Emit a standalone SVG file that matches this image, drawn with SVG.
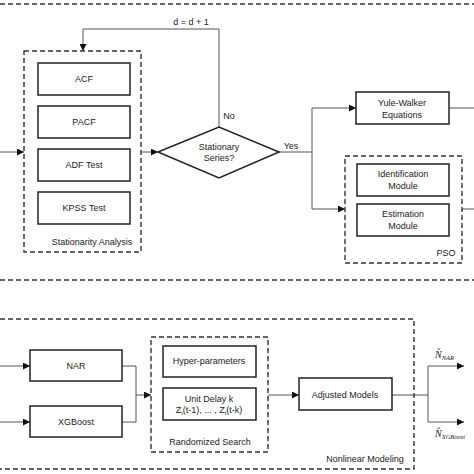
<svg xmlns="http://www.w3.org/2000/svg" width="474" height="474" viewBox="0 0 474 474">
<style>
.box{fill:#fff;stroke:#222;stroke-width:1.5}
.dash{fill:none;stroke:#333;stroke-width:1.4;stroke-dasharray:5,3}
.con{fill:none;stroke:#555;stroke-width:1}
.t{font-family:"Liberation Sans",Arial,sans-serif;font-size:9px;fill:#222;text-anchor:middle}
.s{font-family:"Liberation Serif","Times New Roman",serif;font-style:italic;fill:#222}
</style>
<defs>
<marker id="ah" viewBox="0 0 10 10" refX="10" refY="5" markerWidth="7" markerHeight="7" markerUnits="userSpaceOnUse" orient="auto">
<path d="M0,0 L10,5 L0,10 z" fill="#111"/>
</marker>
</defs>
<rect width="474" height="474" fill="#fff"/>

<!-- section separators -->
<line class="dash" x1="0" y1="4" x2="474" y2="4"/>
<line class="dash" x1="0" y1="280" x2="474" y2="280"/>

<g id="connectors">
<line class="con" x1="0" y1="152" x2="24" y2="152" marker-end="url(#ah)"/>
<line class="con" x1="141" y1="152" x2="158" y2="152" marker-end="url(#ah)"/>
<polyline class="con" points="219,127 219,29 83,29 83,51" marker-end="url(#ah)"/>
<polyline class="con" points="279,152 312,152 312,108 356,108" marker-end="url(#ah)"/>
<polyline class="con" points="312,152 312,209 345,209" marker-end="url(#ah)"/>
<line class="con" x1="449" y1="108" x2="474" y2="108"/>
<line class="con" x1="462" y1="209" x2="474" y2="209"/>
<line class="con" x1="0" y1="366" x2="30" y2="366" marker-end="url(#ah)"/>
<line class="con" x1="0" y1="422" x2="30" y2="422" marker-end="url(#ah)"/>
<polyline class="con" points="122,366 136,366 136,422 122,422"/>
<line class="con" x1="136" y1="395" x2="151" y2="395" marker-end="url(#ah)"/>
<line class="con" x1="268" y1="395" x2="299" y2="395" marker-end="url(#ah)"/>
<line class="con" x1="392" y1="395" x2="428" y2="395"/>
<polyline class="con" points="428,395 428,366 464,366" marker-end="url(#ah)"/>
<polyline class="con" points="428,395 428,422 464,422" marker-end="url(#ah)"/>
<text class="t" x="191" y="25">d = d + 1</text>
<text class="t" x="229" y="119">No</text>
<text class="t" x="291" y="149">Yes</text>
</g>

<g id="stationarity-analysis">
<rect class="dash" x="24" y="51" width="117" height="201"/>
<text class="t" x="92" y="245">Stationarity Analysis</text>
</g>
<g id="acf"><rect class="box" x="38" y="63" width="92" height="32"/><text class="t" x="84" y="82">ACF</text></g>
<g id="pacf"><rect class="box" x="38" y="106" width="92" height="32"/><text class="t" x="84" y="125">PACF</text></g>
<g id="adf"><rect class="box" x="38" y="149" width="92" height="32"/><text class="t" x="84" y="168">ADF Test</text></g>
<g id="kpss"><rect class="box" x="38" y="192" width="92" height="32"/><text class="t" x="84" y="211">KPSS Test</text></g>

<g id="stationary-decision">
<polygon class="box" points="158,152 219,127 279,152 219,178"/>
<text class="t" x="219" y="150">Stationary</text>
<text class="t" x="219" y="161">Series?</text>
</g>

<g id="yule-walker">
<rect class="box" x="356" y="92" width="93" height="32"/>
<text class="t" x="402" y="106">Yule-Walker</text>
<text class="t" x="402" y="118">Equations</text>
</g>

<g id="pso">
<rect class="dash" x="345" y="156" width="117" height="107"/>
<text class="t" x="446" y="256">PSO</text>
</g>
<g id="identification">
<rect class="box" x="357" y="164" width="92" height="32"/>
<text class="t" x="403" y="177">Identification</text>
<text class="t" x="403" y="189">Module</text>
</g>
<g id="estimation">
<rect class="box" x="357" y="204" width="92" height="32"/>
<text class="t" x="403" y="217">Estimation</text>
<text class="t" x="403" y="229">Module</text>
</g>

<g id="nonlinear-modeling">
<polyline class="dash" points="0,319 414,319 414,469 0,469"/>
<text class="t" x="365" y="462">Nonlinear Modeling</text>
</g>
<g id="nar"><rect class="box" x="30" y="350" width="92" height="31"/><text class="t" x="76" y="369">NAR</text></g>
<g id="xgboost"><rect class="box" x="30" y="406" width="92" height="31"/><text class="t" x="76" y="425">XGBoost</text></g>

<g id="randomized-search">
<rect class="dash" x="151" y="337" width="117" height="115"/>
<text class="t" x="210" y="445">Randomized Search</text>
</g>
<g id="hyper-parameters">
<rect class="box" x="163" y="346" width="93" height="31"/>
<text class="t" x="209" y="364">Hyper-parameters</text>
</g>
<g id="unit-delay">
<rect class="box" x="163" y="388" width="93" height="32"/>
<text class="t" x="209" y="402">Unit Delay k</text>
<text class="t" x="209" y="413">Z<tspan font-size="5.5" dy="1.5">t</tspan><tspan dy="-1.5">(t-1), ... , Z</tspan><tspan font-size="5.5" dy="1.5">t</tspan><tspan dy="-1.5">(t-k)</tspan></text>
</g>

<g id="adjusted-models">
<rect class="box" x="299" y="378" width="93" height="32"/>
<text class="t" x="345" y="398">Adjusted Models</text>
</g>

<g id="output-labels">
<text class="s" x="435" y="358" font-size="10">N̂<tspan font-size="6.5" dy="1.5">NAR</tspan></text>
<text class="s" x="435" y="437" font-size="10">N̂<tspan font-size="6.5" dy="1.5">XGBoost</tspan></text>
</g>
</svg>
